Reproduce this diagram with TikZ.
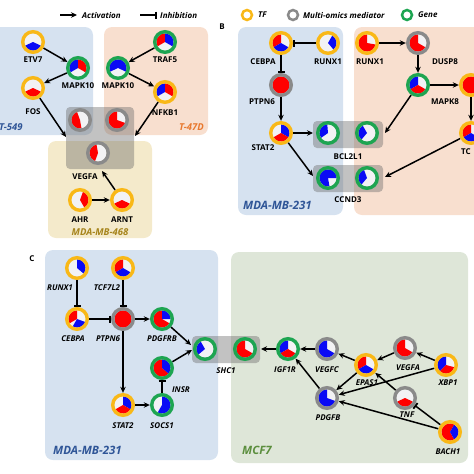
\documentclass[tikz,border=0pt]{standalone}
\usepackage{fontspec}
\setmainfont{Open Sans}
\usetikzlibrary{arrows.meta}
\definecolor{tfc}{HTML}{F9B817}
\definecolor{medc}{HTML}{8A8A8A}
\definecolor{genc}{HTML}{1DA551}
\definecolor{pr}{HTML}{FF0000}
\definecolor{pb}{HTML}{0A0AF5}
\definecolor{pw}{HTML}{F2F2F4}
\definecolor{bxblue}{HTML}{D6E2F0}
\definecolor{bxor}{HTML}{F8DFCF}
\definecolor{bxbe}{HTML}{F4EACB}
\definecolor{bxgr}{HTML}{DEE6D8}
\definecolor{lblblue}{HTML}{2F5597}
\definecolor{lblor}{HTML}{E8782E}
\definecolor{lblbe}{HTML}{A6841C}
\definecolor{lblgr}{HTML}{5B8E3D}
\newcommand{\pienode}[5]{%
 \node[circle,minimum size=24pt,inner sep=0pt] (#1) at (#2,-#3) {};
 \fill[pw] (#2,-#3) circle (8.6pt);
 \foreach \sa/\ea/\sc in {#5}{\fill[\sc] (#2,-#3) -- ++(\sa:8.6pt) arc[start angle=\sa,end angle=\ea,radius=8.6pt] -- cycle;}
 \draw[#4,line width=3.4pt] (#2,-#3) circle (10.3pt);
}
\begin{document}
\begin{tikzpicture}[x=1pt,y=1pt,
 lbl/.style={font=\bfseries\fontsize{8}{9}\selectfont, inner sep=0pt},
 lbli/.style={font=\bfseries\itshape\fontsize{8}{9}\selectfont, inner sep=0pt},
 boxlbl/.style={font=\bfseries\itshape\fontsize{9.5}{11}\selectfont, inner sep=0pt},
 boxlblL/.style={font=\bfseries\itshape\fontsize{11.5}{13}\selectfont, inner sep=0pt},
 act/.style={line width=1.5pt, -{Stealth[length=6pt,width=5.5pt]}},
 inh/.style={line width=1.5pt, -{Bar[width=7pt,line width=1.8pt]}},
 region/.style={rounded corners=8pt},
 grbox/.style={fill=black!60, fill opacity=0.4, rounded corners=4pt},
 legring/.style={line width=2.5pt}
]
\useasboundingbox (0,0) rectangle (474,-474);
% ---------- regions ----------
\fill[bxblue,region] (-12,-27) rectangle (93,-135);
\fill[bxor,region] (104,-27) rectangle (208,-135);
\fill[bxbe,region] (48,-141) rectangle (152,-238);
\fill[bxblue,region] (238,-27) rectangle (343,-215);
\fill[bxor,region] (354,-27) rectangle (495,-215);
\fill[bxblue,region] (45,-250) rectangle (218,-460);
\fill[bxgr,region] (231,-252) rectangle (468,-463);
\fill[grbox] (66,-107) rectangle (134,-169);
\fill[grbox] (313,-121) rectangle (383,-148);
\fill[grbox] (313,-165) rectangle (383,-192);
\fill[grbox] (192,-336) rectangle (260,-363);
% region labels
\node[boxlbl,text=lblblue,anchor=west] (tA1) at (-1,-127) {T-549};
\node[boxlbl,text=lblor,anchor=east] (tA2) at (204,-127) {T-47D};
\node[boxlbl,text=lblbe] (tA3) at (100,-232) {MDA-MB-468};
\node[boxlblL,text=lblblue,anchor=west] (tB1) at (243,-205) {MDA-MB-231};
\node[boxlblL,text=lblblue,anchor=west] (tC1) at (53,-450) {MDA-MB-231};
\node[boxlblL,text=lblgr,anchor=west] (tC2) at (242,-450) {MCF7};
% panel letters
\node[lbl] (pB) at (222,-27) {B};
\node[lbl] (pC) at (32,-259) {C};
% ---------- legend ----------
\coordinate (la1) at (60,-15); \coordinate (la2) at (77,-15);
\draw[act] (la1) -- (la2);
\node[lbli,anchor=west] (lat) at (82,-15) {Activation};
\coordinate (li1) at (140,-15); \coordinate (li2) at (157,-15);
\draw[inh] (li1) -- (li2);
\node[lbli,anchor=west] (lit) at (160,-15) {Inhibition};
\draw[legring,tfc] (247,-15) circle (5pt);
\node[lbli,anchor=west] (ltf) at (258,-15) {TF};
\draw[legring,medc] (293,-15) circle (5pt);
\node[lbli,anchor=west] (lmed) at (303,-15) {Multi-omics mediator};
\draw[legring,genc] (407,-15) circle (5pt);
\node[lbli,anchor=west] (lgen) at (418,-15) {Gene};
% ---------- panel A nodes ----------
\pienode{etv7}{33}{42}{tfc}{205/335/pb}
\pienode{mapkA}{78}{68}{genc}{90/210/pb,-30/90/pr}
\pienode{fos}{33}{88}{tfc}{205/335/pr}
\pienode{mapkT}{118}{68}{genc}{-25/205/pb}
\pienode{traf5}{165}{42}{genc}{90/210/pr,-30/90/pb}
\pienode{nfkb1}{165}{92}{tfc}{90/210/pb,-30/90/pr}
\pienode{vgl}{80}{120}{medc}{110/280/pr}
\pienode{vgr}{117}{120}{medc}{90/340/pr}
\pienode{vegfaA}{98}{153}{medc}{100/250/pr}
\pienode{ahr}{80}{200}{tfc}{-60/70/pr}
\pienode{arnt}{122}{200}{tfc}{205/335/pr}
\node[lbl] (l1) at (33,-60) {ETV7};
\node[lbl] (l2) at (78,-86) {MAPK10};
\node[lbl] (l3) at (33,-112) {FOS};
\node[lbl] (l4) at (118,-86) {MAPK10};
\node[lbl] (l5) at (165,-60) {TRAF5};
\node[lbl] (l6) at (165,-113) {NFKB1};
\node[lbl] (l7) at (85,-177) {VEGFA};
\node[lbl] (l8) at (80,-220) {AHR};
\node[lbl] (l9) at (122,-220) {ARNT};
\coordinate (gA1) at (66,-137);
\coordinate (gA2) at (135,-136);
\coordinate (gA3) at (102,-171);
\draw[act] (etv7) -- (mapkA);
\draw[act] (mapkA) -- (fos);
\draw[act] (fos) -- (gA1);
\draw[act] (traf5) -- (mapkT);
\draw[act] (mapkT) -- (nfkb1);
\draw[act] (nfkb1) -- (gA2);
\draw[act] (ahr) -- (arnt);
\draw[act] (arnt) -- (gA3);
% ---------- panel B nodes ----------
\pienode{cebpaB}{281}{43}{tfc}{90/210/pr,210/330/pb}
\pienode{runxB}{328}{43}{tfc}{-50/60/pb}
\pienode{ptpnB}{281}{85}{medc}{0/360/pr}
\pienode{stat2B}{281}{133}{tfc}{-30/90/pb,210/330/pr}
\pienode{bclL}{328}{133}{genc}{95/215/pb}
\pienode{bclR}{367}{133}{genc}{120/230/pb}
\pienode{ccnL}{328}{178}{genc}{0/280/pb}
\pienode{ccnR}{367}{178}{genc}{110/230/pb}
\pienode{runxO}{367}{43}{tfc}{90/350/pr}
\pienode{dusp8}{418}{43}{medc}{90/330/pr}
\pienode{mapk8}{418}{85}{genc}{90/210/pb,210/330/pr}
\pienode{rnode}{471}{85}{tfc}{0/360/pr}
\pienode{tcf}{471}{133}{tfc}{90/210/pr,210/330/pb}
\node[lbl] (m1) at (263,-62) {CEBPA};
\node[lbl] (m2) at (328,-62) {RUNX1};
\node[lbl] (m3) at (262,-102) {PTPN6};
\node[lbl] (m4) at (263,-148) {STAT2};
\node[lbl] (m5) at (348,-157) {BCL2L1};
\node[lbl] (m6) at (348,-200) {CCND3};
\node[lbl] (m7) at (370,-62) {RUNX1};
\node[lbl] (m8) at (445,-62) {DUSP8};
\node[lbl] (m9) at (445,-102) {MAPK8};
\node[lbl,anchor=west] (m10) at (461,-152) {TC};
\coordinate (gB1) at (313,-133);
\coordinate (gB2) at (313,-176);
\coordinate (gB3) at (385,-133);
\coordinate (gB4) at (385,-177);
\draw[inh] (runxB) -- (cebpaB);
\draw[inh] (cebpaB) -- (ptpnB);
\draw[act] (ptpnB) -- (stat2B);
\draw[act] (stat2B) -- (gB1);
\draw[act] (stat2B) -- (gB2);
\draw[act] (runxO) -- (dusp8);
\draw[act] (dusp8) -- (mapk8);
\draw[act] (mapk8) -- (rnode);
\draw[act] (mapk8) -- (gB3);
\draw[act] (rnode) -- (tcf);
\draw[act] (tcf) -- (gB4);
% ---------- panel C nodes ----------
\pienode{runxC}{77}{268}{tfc}{-40/90/pb}
\pienode{tcfC}{123}{268}{tfc}{90/210/pr,210/330/pb}
\pienode{cebpaC}{77}{319}{tfc}{90/210/pr,240/340/pb}
\pienode{ptpnC}{123}{319}{medc}{0/360/pr}
\pienode{pdgfrb}{162}{319}{genc}{90/330/pr,0/90/pb}
\pienode{shcL}{205}{349}{genc}{120/220/pb}
\pienode{shcR}{245}{349}{genc}{90/330/pr}
\pienode{insr}{162}{368}{genc}{90/320/pr,-40/90/pb}
\pienode{stat2C}{123}{405}{tfc}{-30/90/pb,210/330/pr}
\pienode{socs1}{162}{405}{genc}{240/450/pb}
\pienode{igf1r}{288}{349}{genc}{90/210/pb,210/330/pr}
\pienode{vegfc}{327}{349}{medc}{90/330/pb}
\pienode{epas1}{366}{365}{tfc}{90/210/pr,210/330/pb}
\pienode{vegfaC}{405}{348}{medc}{90/330/pr}
\pienode{xbp1}{446}{365}{tfc}{90/225/pb,225/345/pr}
\pienode{pdgfb}{327}{398}{medc}{90/340/pb}
\pienode{tnf}{405}{398}{medc}{205/335/pr}
\pienode{bach1}{450}{432}{tfc}{60/300/pr,-60/60/pb}
\node[lbli] (n1) at (60,-288) {RUNX1};
\node[lbli] (n2) at (107,-288) {TCF7L2};
\node[lbli] (n3) at (73,-339) {CEBPA};
\node[lbli] (n4) at (108,-339) {PTPN6};
\node[lbli] (n5) at (162,-339) {PDGFRB};
\node[lbli] (n6) at (226,-371) {SHC1};
\node[lbli] (n7) at (181,-390) {INSR};
\node[lbli] (n8) at (123,-426) {STAT2};
\node[lbli] (n9) at (162,-426) {SOCS1};
\node[lbli] (n10) at (285,-370) {IGF1R};
\node[lbli] (n11) at (327,-370) {VEGFC};
\node[lbli] (n12) at (367,-383) {EPAS1};
\node[lbli] (n13) at (408,-368) {VEGFA};
\node[lbli] (n14) at (448,-383) {XBP1};
\node[lbli] (n15) at (328,-418) {PDGFB};
\node[lbli] (n16) at (407,-415) {TNF};
\node[lbli] (n17) at (448,-452) {BACH1};
\coordinate (gC1) at (191,-345);
\coordinate (gC2) at (192,-350);
\coordinate (gC3) at (261,-349);
\draw[inh] (runxC) -- (cebpaC);
\draw[inh] (tcfC) -- (ptpnC);
\draw[inh] (cebpaC) -- (ptpnC);
\draw[act] (ptpnC) -- (pdgfrb);
\draw[act] (ptpnC) -- (stat2C);
\draw[act] (pdgfrb) -- (gC1);
\draw[act] (insr) -- (gC2);
\draw[inh] (socs1) -- (insr);
\draw[act] (stat2C) -- (socs1);
\draw[act] (igf1r) -- (gC3);
\draw[act] (vegfc) -- (igf1r);
\draw[act] (epas1) -- (vegfc);
\draw[act] (vegfaC) -- (epas1);
\draw[act] (xbp1) -- (vegfaC);
\draw[act] (xbp1) -- (pdgfb);
\draw[act] (epas1) -- (pdgfb);
\draw[act] (pdgfb) -- (igf1r);
\draw[act] (tnf) -- (epas1);
\draw[inh] (bach1) -- (tnf);
\draw[act] (bach1) -- (pdgfb);
\end{tikzpicture}
\end{document}
